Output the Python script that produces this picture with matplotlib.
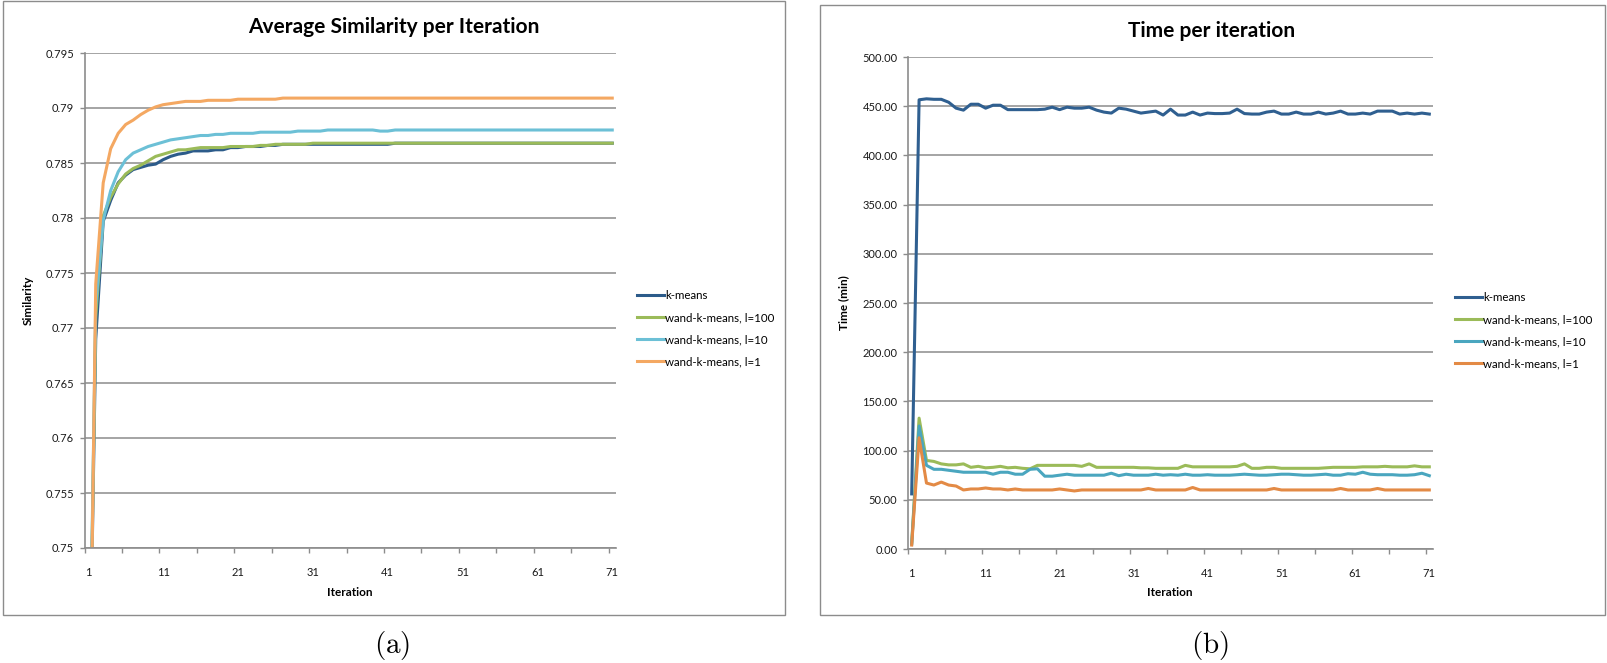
import numpy as np
import matplotlib
matplotlib.use("Agg")
import matplotlib.pyplot as plt
from matplotlib.patches import Rectangle

plt.rcParams["font.family"] = ["Lato", "DejaVu Sans"]
plt.rcParams["mathtext.fontset"] = "cm"

# ---- data ----
iterations = list(range(1, 72))
series_names = ["k-means", "wand-k-means, l=100", "wand-k-means, l=10", "wand-k-means, l=1"]

# (a) average similarity
sim_kmeans = [0.7285, 0.769, 0.7797, 0.7816, 0.7832, 0.7839, 0.7844, 0.7846, 0.7848, 0.7849,
              0.7853, 0.7856, 0.7858, 0.7859, 0.7861, 0.7861, 0.7861, 0.7862, 0.7862, 0.7864,
              0.7864, 0.7865, 0.7865, 0.7865, 0.7866, 0.7866, 0.7867, 0.7867, 0.7867, 0.7867,
              0.7867, 0.7867, 0.7867, 0.7867, 0.7867, 0.7867, 0.7867, 0.7867, 0.7867, 0.7867,
              0.7867, 0.7868, 0.7868, 0.7868, 0.7868, 0.7868, 0.7868, 0.7868, 0.7868, 0.7868,
              0.7868, 0.7868, 0.7868, 0.7868, 0.7868, 0.7868, 0.7868, 0.7868, 0.7868, 0.7868,
              0.7868, 0.7868, 0.7868, 0.7868, 0.7868, 0.7868, 0.7868, 0.7868, 0.7868, 0.7868,
              0.7868]
sim_l100 = [0.7285, 0.771, 0.7802, 0.7819, 0.7831, 0.784, 0.7845, 0.7848, 0.7852, 0.7856,
            0.7858, 0.786, 0.7862, 0.7862, 0.7863, 0.7864, 0.7864, 0.7864, 0.7864, 0.7865,
            0.7865, 0.7865, 0.7865, 0.7866, 0.7866, 0.7867, 0.7867, 0.7867, 0.7867, 0.7867,
            0.7868, 0.7868, 0.7868, 0.7868, 0.7868, 0.7868, 0.7868, 0.7868, 0.7868, 0.7868,
            0.7868, 0.7868, 0.7868, 0.7868, 0.7868, 0.7868, 0.7868, 0.7868, 0.7868, 0.7868,
            0.7868, 0.7868, 0.7868, 0.7868, 0.7868, 0.7868, 0.7868, 0.7868, 0.7868, 0.7868,
            0.7868, 0.7868, 0.7868, 0.7868, 0.7868, 0.7868, 0.7868, 0.7868, 0.7868, 0.7868,
            0.7868]
sim_l10 = [0.729, 0.772, 0.7798, 0.7825, 0.7842, 0.7853, 0.7859, 0.7862, 0.7865, 0.7867,
           0.7869, 0.7871, 0.7872, 0.7873, 0.7874, 0.7875, 0.7875, 0.7876, 0.7876, 0.7877,
           0.7877, 0.7877, 0.7877, 0.7878, 0.7878, 0.7878, 0.7878, 0.7878, 0.7879, 0.7879,
           0.7879, 0.7879, 0.788, 0.788, 0.788, 0.788, 0.788, 0.788, 0.788, 0.7879,
           0.7879, 0.788, 0.788, 0.788, 0.788, 0.788, 0.788, 0.788, 0.788, 0.788,
           0.788, 0.788, 0.788, 0.788, 0.788, 0.788, 0.788, 0.788, 0.788, 0.788,
           0.788, 0.788, 0.788, 0.788, 0.788, 0.788, 0.788, 0.788, 0.788, 0.788,
           0.788]
sim_l1 = [0.7235, 0.774, 0.7832, 0.7863, 0.7877, 0.7885, 0.7889, 0.7894, 0.7898, 0.7901,
          0.7903, 0.7904, 0.7905, 0.7906, 0.7906, 0.7906, 0.7907, 0.7907, 0.7907, 0.7907,
          0.7908, 0.7908, 0.7908, 0.7908, 0.7908, 0.7908, 0.7909, 0.7909, 0.7909, 0.7909,
          0.7909, 0.7909, 0.7909, 0.7909, 0.7909, 0.7909, 0.7909, 0.7909, 0.7909, 0.7909,
          0.7909, 0.7909, 0.7909, 0.7909, 0.7909, 0.7909, 0.7909, 0.7909, 0.7909, 0.7909,
          0.7909, 0.7909, 0.7909, 0.7909, 0.7909, 0.7909, 0.7909, 0.7909, 0.7909, 0.7909,
          0.7909, 0.7909, 0.7909, 0.7909, 0.7909, 0.7909, 0.7909, 0.7909, 0.7909, 0.7909,
          0.7909]

# (b) time per iteration (min)
time_kmeans = [56, 456.5, 457.5, 457, 457, 454, 448, 446, 452, 452,
               448, 451, 451, 446.5, 446.5, 446.5, 446.5, 446.5, 447, 449,
               446.5, 449, 448, 448, 449, 446, 444, 443, 448, 447,
               445, 443, 444, 445, 441, 447, 441, 441, 444, 441,
               443, 442.5, 442.5, 443, 447, 442.5, 442, 442, 444, 445,
               442, 442, 444, 442, 442, 444, 442, 443, 445, 442,
               442, 443, 442, 445, 445, 445, 442, 443, 442, 443,
               442]
time_l100 = [6, 133, 90, 89, 86.5, 85.5, 85.5, 86.5, 83, 84,
             82.5, 83, 84, 82.5, 83, 82, 81.5, 85, 85, 85,
             85, 85, 85, 84, 86.5, 83, 83, 83, 83, 83,
             83, 82.5, 82.5, 82, 82, 82, 82, 85, 83.5, 83.5,
             83.5, 83.5, 83.5, 83.5, 84, 86.5, 82, 82, 83, 83,
             82, 82, 82, 82, 82, 82, 82.5, 83, 83, 83,
             83, 83.5, 83.5, 83.5, 84, 83.5, 83.5, 83.5, 84.5, 83.5,
             83.5]
time_l10 = [5, 125, 85, 81, 81, 80, 79, 78, 78, 78,
            78, 76, 78, 78, 76, 76, 81, 81.5, 74, 74,
            75, 76, 75, 75, 75, 75, 75, 77, 74.5, 76,
            75, 75, 75, 76, 75, 75.5, 75, 76, 75, 75,
            75.5, 75, 75, 75, 75.5, 76, 75.5, 75, 75, 75.5,
            76, 76, 75.5, 75, 75, 75.5, 76, 75, 75, 76.5,
            76, 78, 76, 75.5, 75.5, 75.5, 75, 75, 75.5, 77,
            74.5]
time_l1 = [4, 113, 67, 65, 68, 65, 64, 60, 61, 61,
           62, 61, 61, 60, 61, 60, 60, 60, 60, 60,
           61, 60, 59, 60, 60, 60, 60, 60, 60, 60,
           60, 60, 61.5, 60, 60, 60, 60, 60, 62.5, 60,
           60, 60, 60, 60, 60, 60, 60, 60, 60, 61.5,
           60, 60, 60, 60, 60, 60, 60, 60, 61.5, 60,
           60, 60, 60, 61.5, 60, 60, 60, 60, 60, 60,
           60]

sim_ticks = [0.75, 0.755, 0.76, 0.765, 0.77, 0.775, 0.78, 0.785, 0.79, 0.795]
time_ticks = [0, 50, 100, 150, 200, 250, 300, 350, 400, 450, 500]
x_labels = [1, 11, 21, 31, 41, 51, 61, 71]

colors_a = ["#2c5b8a", "#9bbb59", "#6cc0d6", "#f4a862"]
colors_b = ["#2f5f90", "#9bbb59", "#4aa6bf", "#e38a45"]

W, H = 1607, 663
GRID = "#8c8c8c"


def fx(px):
    return px / W


def fy(py):
    return 1 - py / H


fig = plt.figure(figsize=(W / 100, H / 100), dpi=100)

# panel frames
fig.add_artist(Rectangle((fx(3), fy(615)), (785 - 3) / W, (615 - 1) / H,
                         transform=fig.transFigure, fill=False, edgecolor=GRID, lw=1))
fig.add_artist(Rectangle((fx(820), fy(615)), (1605 - 820) / W, (615 - 5) / H,
                         transform=fig.transFigure, fill=False, edgecolor=GRID, lw=1))

ax1 = fig.add_axes([fx(84.5), fy(548), (616 - 84.5) / W, (548 - 53) / H])
ax2 = fig.add_axes([fx(908), fy(549), (1433 - 908) / W, (549 - 57) / H])


def style_axes(ax, yticks, fmt):
    ax.set_xlim(0.5, 71.5)
    ax.set_ylim(yticks[0], yticks[-1])
    ax.set_yticks(yticks)
    ax.set_yticklabels([fmt(v) for v in yticks])
    for s in ["top", "right"]:
        ax.spines[s].set_visible(False)
    for s in ["left", "bottom"]:
        ax.spines[s].set_color(GRID)
        ax.spines[s].set_linewidth(1.2)
    ax.yaxis.grid(True, color=GRID, lw=1.1)
    ax.set_axisbelow(True)
    ax.tick_params(axis="y", length=3.6, width=1, color=GRID, labelsize=8, pad=4, labelcolor="#1a1a1a")
    ax.set_xticks(x_labels)
    ax.set_xticklabels([str(v) for v in x_labels])
    ax.set_xticks(np.arange(0.5, 71, 5), minor=True)
    ax.tick_params(axis="x", which="major", length=0, labelsize=8, pad=14, labelcolor="#1a1a1a")
    ax.tick_params(axis="x", which="minor", length=3.6, width=1, color=GRID)


style_axes(ax1, sim_ticks, lambda v: f"{v:.3f}".rstrip("0"))
style_axes(ax2, time_ticks, lambda v: f"{v:.2f}")

for vals, name, c in zip([sim_kmeans, sim_l100, sim_l10, sim_l1], series_names, colors_a):
    ax1.plot(iterations, vals, color=c, lw=2.2, label=name, solid_joinstyle="round")
for vals, name, c in zip([time_kmeans, time_l100, time_l10, time_l1], series_names, colors_b):
    ax2.plot(iterations, vals, color=c, lw=2.2, label=name, solid_joinstyle="round")

leg_kw = dict(loc="center left", bbox_transform=fig.transFigure, frameon=False, fontsize=8.3,
              handlelength=2.3, handletextpad=0.15, labelspacing=0.95, borderpad=0, borderaxespad=0)
ax1.legend(bbox_to_anchor=(fx(637), fy(328.6)), **leg_kw)
ax2.legend(bbox_to_anchor=(fx(1455), fy(330.5)), **leg_kw)

# titles and axis labels
fig.text(fx(394), fy(27), "Average Similarity per Iteration", ha="center", va="center",
         fontsize=15, fontweight="bold")
fig.text(fx(1212), fy(31), "Time per iteration", ha="center", va="center",
         fontsize=15, fontweight="bold")
fig.text(fx(28), fy(300), "Similarity", rotation=90, ha="center", va="center",
         fontsize=8.5, fontweight="bold")
fig.text(fx(844), fy(303), "Time (min)", rotation=90, ha="center", va="center",
         fontsize=8.5, fontweight="bold")
fig.text(fx(350), fy(593), "Iteration", ha="center", va="center", fontsize=8.5, fontweight="bold")
fig.text(fx(1170), fy(593), "Iteration", ha="center", va="center", fontsize=8.5, fontweight="bold")

# sub-captions
fig.text(fx(392), fy(645), r"$\mathrm{(a)}$", ha="center", va="center", fontsize=21)
fig.text(fx(1210), fy(645), r"$\mathrm{(b)}$", ha="center", va="center", fontsize=21)

fig.savefig("out.png", dpi=100)
